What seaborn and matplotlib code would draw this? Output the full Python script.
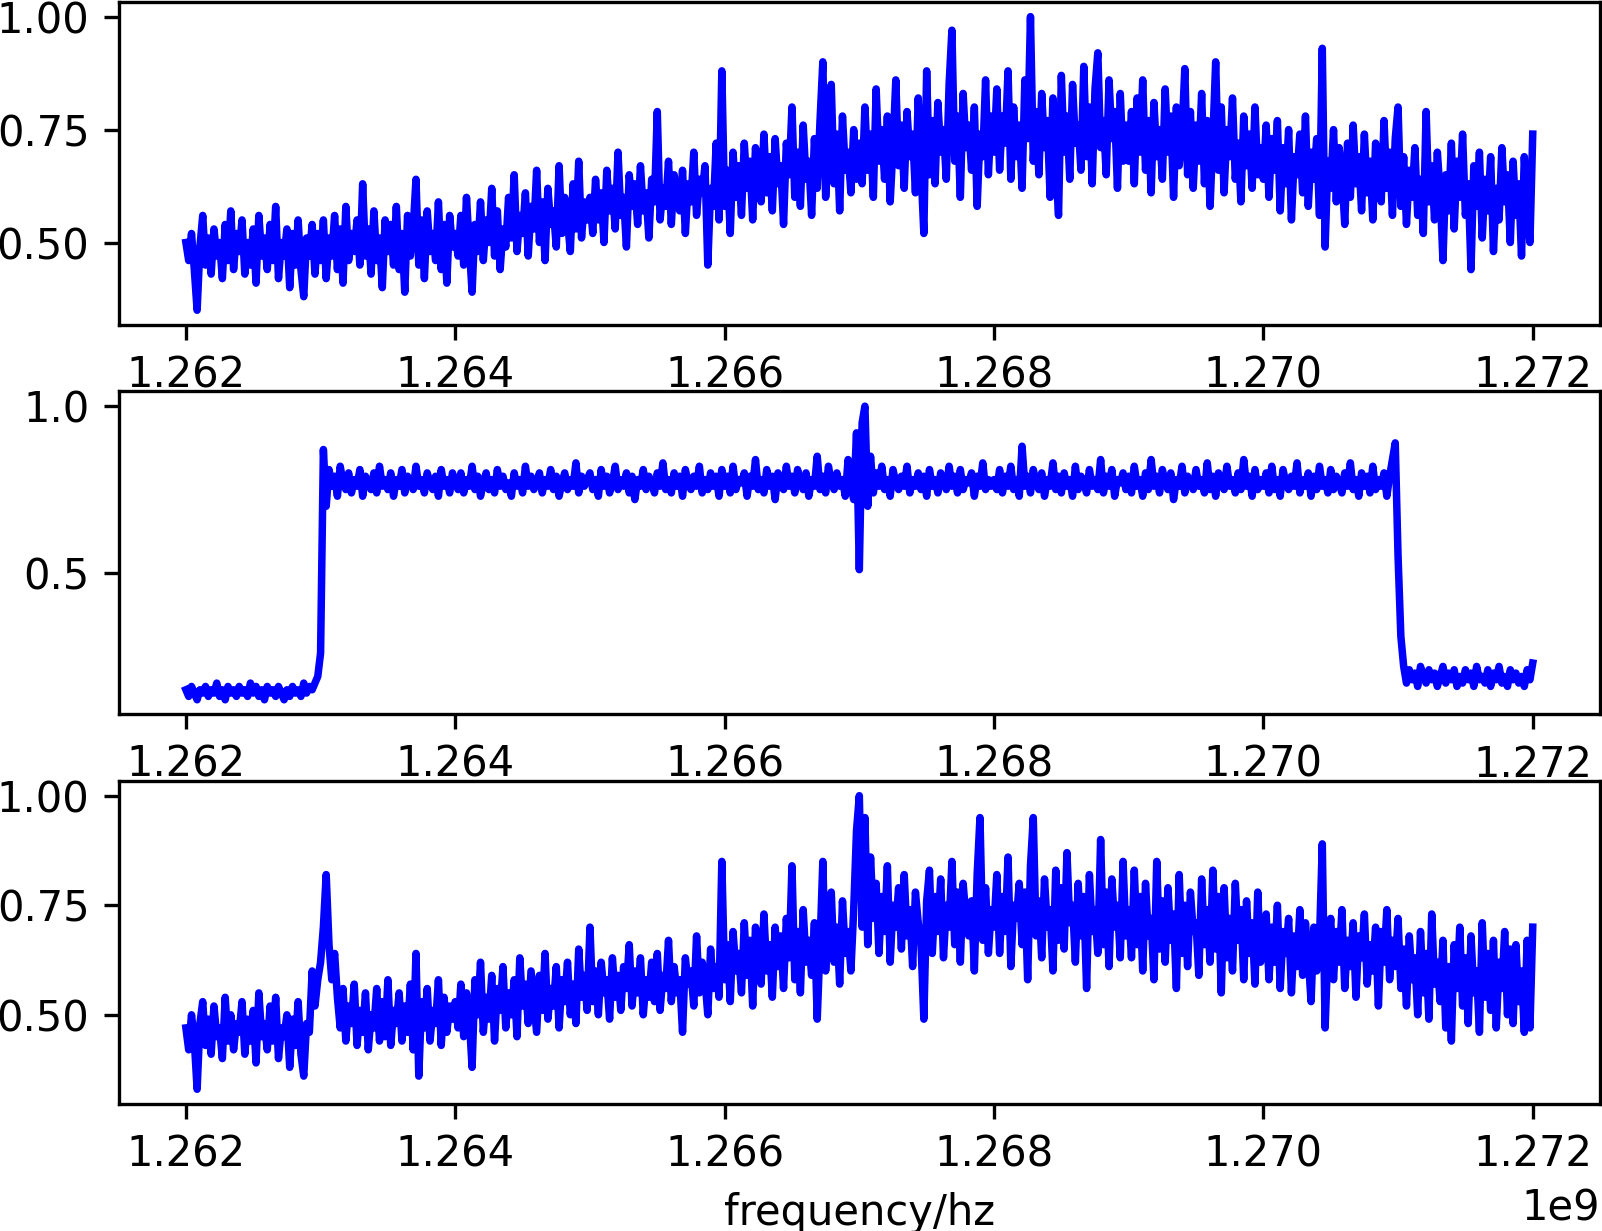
import numpy as np
import matplotlib
matplotlib.use("Agg")
import matplotlib.pyplot as plt
import seaborn as sns

# sweep limits (Hz)
f_start = 1.262e9
f_stop = 1.272e9

# normalised power, 48 samples per MHz (two lines = 1 MHz)
spectrum_a = [
    0.50, 0.46, 0.52, 0.44, 0.35, 0.49, 0.56, 0.45, 0.51, 0.43, 0.53, 0.47, 0.50, 0.42, 0.54, 0.46, 0.57, 0.44, 0.52, 0.48, 0.55, 0.43, 0.50, 0.45,
    0.53, 0.41, 0.56, 0.47, 0.51, 0.44, 0.54, 0.46, 0.58, 0.42, 0.50, 0.47, 0.53, 0.40, 0.52, 0.45, 0.55, 0.44, 0.38, 0.51, 0.47, 0.54, 0.43, 0.52,
    0.46, 0.55, 0.42, 0.51, 0.47, 0.56, 0.44, 0.53, 0.41, 0.58, 0.46, 0.52, 0.48, 0.55, 0.45, 0.63, 0.47, 0.53, 0.43, 0.57, 0.46, 0.51, 0.40, 0.55,
    0.48, 0.54, 0.45, 0.58, 0.44, 0.52, 0.39, 0.56, 0.47, 0.53, 0.64, 0.45, 0.55, 0.42, 0.57, 0.48, 0.52, 0.46, 0.59, 0.44, 0.54, 0.41, 0.56, 0.49,
    0.52, 0.47, 0.56, 0.45, 0.60, 0.49, 0.39, 0.54, 0.48, 0.59, 0.46, 0.55, 0.50, 0.62, 0.47, 0.57, 0.44, 0.53, 0.49, 0.60, 0.51, 0.65, 0.48, 0.56,
    0.52, 0.61, 0.47, 0.58, 0.53, 0.66, 0.50, 0.59, 0.46, 0.62, 0.54, 0.57, 0.49, 0.67, 0.52, 0.60, 0.55, 0.48, 0.63, 0.53, 0.68, 0.51, 0.59, 0.55,
    0.60, 0.52, 0.64, 0.55, 0.61, 0.50, 0.66, 0.57, 0.62, 0.53, 0.70, 0.56, 0.60, 0.49, 0.65, 0.58, 0.63, 0.54, 0.67, 0.57, 0.61, 0.51, 0.64, 0.59,
    0.79, 0.55, 0.62, 0.58, 0.68, 0.54, 0.65, 0.60, 0.57, 0.66, 0.52, 0.63, 0.59, 0.70, 0.56, 0.64, 0.61, 0.67, 0.45, 0.62, 0.58, 0.72, 0.55, 0.88,
    0.58, 0.66, 0.52, 0.70, 0.60, 0.67, 0.56, 0.72, 0.62, 0.68, 0.55, 0.71, 0.64, 0.59, 0.74, 0.61, 0.69, 0.57, 0.73, 0.63, 0.67, 0.54, 0.72, 0.65,
    0.80, 0.60, 0.70, 0.58, 0.76, 0.64, 0.68, 0.56, 0.73, 0.62, 0.77, 0.90, 0.60, 0.71, 0.85, 0.63, 0.74, 0.57, 0.78, 0.66, 0.70, 0.61, 0.75, 0.64,
    0.72, 0.63, 0.80, 0.66, 0.74, 0.60, 0.84, 0.68, 0.75, 0.64, 0.78, 0.59, 0.71, 0.86, 0.67, 0.76, 0.62, 0.79, 0.69, 0.74, 0.61, 0.82, 0.66, 0.52,
    0.88, 0.65, 0.77, 0.63, 0.81, 0.70, 0.75, 0.64, 0.85, 0.97, 0.68, 0.78, 0.60, 0.83, 0.71, 0.76, 0.66, 0.80, 0.58, 0.74, 0.69, 0.86, 0.65, 0.78,
    0.70, 0.84, 0.66, 0.78, 0.72, 0.88, 0.64, 0.80, 0.69, 0.76, 0.62, 0.86, 0.73, 1.00, 0.68, 0.79, 0.65, 0.83, 0.71, 0.77, 0.60, 0.82, 0.67, 0.56,
    0.87, 0.70, 0.78, 0.64, 0.85, 0.72, 0.76, 0.66, 0.89, 0.69, 0.80, 0.63, 0.84, 0.92, 0.71, 0.77, 0.65, 0.86, 0.73, 0.79, 0.62, 0.83, 0.68, 0.76,
    0.68, 0.79, 0.63, 0.82, 0.70, 0.86, 0.66, 0.77, 0.61, 0.81, 0.69, 0.75, 0.64, 0.84, 0.70, 0.78, 0.60, 0.80, 0.67, 0.74, 0.885, 0.65, 0.79, 0.62,
    0.76, 0.68, 0.83, 0.63, 0.77, 0.58, 0.73, 0.90, 0.66, 0.80, 0.61, 0.75, 0.69, 0.82, 0.64, 0.72, 0.59, 0.78, 0.67, 0.74, 0.62, 0.80, 0.65, 0.71,
    0.64, 0.76, 0.60, 0.73, 0.66, 0.77, 0.57, 0.71, 0.63, 0.75, 0.55, 0.69, 0.65, 0.74, 0.61, 0.78, 0.58, 0.70, 0.64, 0.73, 0.56, 0.93, 0.49, 0.68,
    0.62, 0.75, 0.59, 0.71, 0.65, 0.54, 0.72, 0.60, 0.76, 0.63, 0.69, 0.57, 0.74, 0.61, 0.68, 0.55, 0.72, 0.64, 0.59, 0.77, 0.62, 0.70, 0.56, 0.73,
    0.80, 0.58, 0.69, 0.54, 0.66, 0.60, 0.71, 0.56, 0.64, 0.52, 0.79, 0.59, 0.67, 0.55, 0.70, 0.61, 0.46, 0.65, 0.57, 0.72, 0.53, 0.68, 0.60, 0.74,
    0.56, 0.63, 0.44, 0.67, 0.58, 0.70, 0.51, 0.64, 0.57, 0.69, 0.48, 0.62, 0.55, 0.71, 0.59, 0.65, 0.50, 0.68, 0.56, 0.63, 0.47, 0.69, 0.58, 0.50,
    0.74,
]

spectrum_b = [
    0.15, 0.13, 0.16, 0.14, 0.12, 0.15, 0.14, 0.16, 0.13, 0.15, 0.14, 0.17, 0.13, 0.15, 0.12, 0.16, 0.14, 0.15, 0.13, 0.16, 0.14, 0.15, 0.13, 0.17,
    0.14, 0.16, 0.13, 0.15, 0.12, 0.16, 0.14, 0.15, 0.13, 0.16, 0.14, 0.12, 0.15, 0.13, 0.16, 0.14, 0.15, 0.13, 0.17, 0.14, 0.16, 0.15, 0.17, 0.19,
    0.26, 0.87, 0.70, 0.81, 0.76, 0.79, 0.73, 0.82, 0.77, 0.75, 0.80, 0.74, 0.78, 0.76, 0.81, 0.73, 0.79, 0.77, 0.75, 0.80, 0.74, 0.82, 0.76, 0.78,
    0.75, 0.80, 0.73, 0.78, 0.76, 0.81, 0.74, 0.79, 0.77, 0.75, 0.82, 0.76, 0.78, 0.74, 0.80, 0.77, 0.75, 0.79, 0.73, 0.81, 0.76, 0.78, 0.74, 0.80,
    0.77, 0.75, 0.80, 0.74, 0.78, 0.76, 0.82, 0.75, 0.79, 0.73, 0.77, 0.80, 0.75, 0.78, 0.74, 0.81, 0.76, 0.79, 0.75, 0.77, 0.73, 0.80, 0.76, 0.78,
    0.74, 0.82, 0.76, 0.79, 0.75, 0.77, 0.80, 0.74, 0.78, 0.76, 0.81, 0.75, 0.79, 0.73, 0.77, 0.80, 0.75, 0.78, 0.76, 0.83, 0.74, 0.79, 0.76, 0.78,
    0.80, 0.75, 0.78, 0.73, 0.81, 0.76, 0.79, 0.74, 0.77, 0.82, 0.75, 0.78, 0.76, 0.80, 0.74, 0.79, 0.72, 0.78, 0.76, 0.81, 0.75, 0.79, 0.77, 0.74,
    0.80, 0.76, 0.83, 0.75, 0.78, 0.74, 0.80, 0.76, 0.79, 0.73, 0.81, 0.77, 0.75, 0.79, 0.76, 0.82, 0.74, 0.78, 0.75, 0.80, 0.76, 0.79, 0.73, 0.81,
    0.76, 0.79, 0.74, 0.82, 0.75, 0.78, 0.77, 0.80, 0.73, 0.79, 0.76, 0.84, 0.75, 0.78, 0.74, 0.81, 0.76, 0.79, 0.72, 0.80, 0.77, 0.75, 0.82, 0.76,
    0.79, 0.74, 0.81, 0.77, 0.75, 0.80, 0.73, 0.78, 0.76, 0.85, 0.75, 0.79, 0.74, 0.82, 0.77, 0.75, 0.80, 0.76, 0.78, 0.73, 0.84, 0.76, 0.72, 0.92,
    0.51, 0.95, 1.00, 0.70, 0.85, 0.74, 0.80, 0.76, 0.82, 0.75, 0.78, 0.73, 0.81, 0.77, 0.75, 0.79, 0.76, 0.82, 0.74, 0.78, 0.76, 0.80, 0.75, 0.79,
    0.73, 0.81, 0.76, 0.78, 0.74, 0.80, 0.77, 0.75, 0.82, 0.76, 0.79, 0.74, 0.81, 0.75, 0.78, 0.77, 0.80, 0.73, 0.79, 0.76, 0.83, 0.75, 0.78, 0.76,
    0.78, 0.75, 0.81, 0.74, 0.79, 0.76, 0.82, 0.75, 0.78, 0.73, 0.88, 0.76, 0.79, 0.74, 0.81, 0.77, 0.75, 0.80, 0.73, 0.78, 0.76, 0.83, 0.75, 0.79,
    0.74, 0.80, 0.76, 0.78, 0.73, 0.82, 0.75, 0.79, 0.77, 0.74, 0.81, 0.76, 0.78, 0.75, 0.84, 0.74, 0.79, 0.76, 0.81, 0.73, 0.78, 0.77, 0.80, 0.75,
    0.79, 0.74, 0.82, 0.76, 0.78, 0.73, 0.80, 0.75, 0.84, 0.76, 0.79, 0.74, 0.81, 0.77, 0.75, 0.80, 0.72, 0.78, 0.76, 0.82, 0.74, 0.79, 0.77, 0.75,
    0.81, 0.76, 0.78, 0.74, 0.83, 0.75, 0.79, 0.73, 0.80, 0.77, 0.75, 0.82, 0.76, 0.78, 0.74, 0.80, 0.75, 0.84, 0.76, 0.79, 0.73, 0.81, 0.75, 0.78,
    0.76, 0.80, 0.74, 0.82, 0.75, 0.78, 0.73, 0.81, 0.77, 0.75, 0.79, 0.76, 0.83, 0.74, 0.78, 0.76, 0.80, 0.73, 0.79, 0.75, 0.82, 0.76, 0.78, 0.74,
    0.81, 0.75, 0.79, 0.77, 0.74, 0.80, 0.76, 0.83, 0.75, 0.78, 0.73, 0.80, 0.76, 0.79, 0.74, 0.82, 0.75, 0.78, 0.76, 0.80, 0.73, 0.79, 0.84, 0.89,
    0.55, 0.31, 0.22, 0.17, 0.21, 0.18, 0.20, 0.16, 0.22, 0.19, 0.17, 0.21, 0.18, 0.20, 0.16, 0.19, 0.22, 0.17, 0.20, 0.18, 0.21, 0.16, 0.19, 0.17,
    0.21, 0.18, 0.20, 0.16, 0.22, 0.18, 0.19, 0.17, 0.21, 0.16, 0.20, 0.18, 0.22, 0.17, 0.19, 0.16, 0.21, 0.18, 0.20, 0.17, 0.19, 0.16, 0.21, 0.18,
    0.23,
]

spectrum_c = [
    0.47, 0.42, 0.50, 0.44, 0.33, 0.48, 0.53, 0.43, 0.49, 0.41, 0.52, 0.45, 0.47, 0.40, 0.54, 0.44, 0.50, 0.42, 0.48, 0.46, 0.53, 0.41, 0.49, 0.44,
    0.51, 0.39, 0.55, 0.45, 0.48, 0.42, 0.52, 0.44, 0.54, 0.40, 0.47, 0.45, 0.50, 0.38, 0.49, 0.43, 0.53, 0.41, 0.36, 0.48, 0.46, 0.60, 0.52, 0.58,
    0.62, 0.70, 0.82, 0.66, 0.58, 0.64, 0.54, 0.47, 0.56, 0.44, 0.52, 0.48, 0.57, 0.43, 0.51, 0.46, 0.55, 0.42, 0.50, 0.47, 0.56, 0.44, 0.53, 0.45,
    0.58, 0.43, 0.51, 0.48, 0.55, 0.44, 0.52, 0.46, 0.57, 0.42, 0.64, 0.36, 0.53, 0.47, 0.56, 0.44, 0.51, 0.48, 0.58, 0.43, 0.54, 0.46, 0.52, 0.49,
    0.53, 0.47, 0.57, 0.45, 0.55, 0.49, 0.38, 0.58, 0.50, 0.62, 0.46, 0.54, 0.49, 0.59, 0.44, 0.56, 0.51, 0.61, 0.47, 0.55, 0.50, 0.58, 0.45, 0.63,
    0.52, 0.57, 0.48, 0.60, 0.53, 0.46, 0.59, 0.51, 0.64, 0.49, 0.56, 0.52, 0.61, 0.47, 0.58, 0.53, 0.62, 0.50, 0.57, 0.48, 0.65, 0.54, 0.59, 0.51,
    0.70, 0.53, 0.60, 0.50, 0.62, 0.55, 0.58, 0.49, 0.63, 0.54, 0.59, 0.51, 0.61, 0.56, 0.66, 0.52, 0.60, 0.55, 0.63, 0.50, 0.58, 0.54, 0.62, 0.53,
    0.64, 0.51, 0.59, 0.56, 0.67, 0.53, 0.61, 0.55, 0.58, 0.46, 0.63, 0.57, 0.60, 0.52, 0.68, 0.55, 0.62, 0.58, 0.50, 0.65, 0.56, 0.61, 0.54, 0.85,
    0.58, 0.66, 0.53, 0.69, 0.60, 0.64, 0.55, 0.71, 0.59, 0.67, 0.52, 0.70, 0.62, 0.57, 0.73, 0.60, 0.66, 0.54, 0.70, 0.61, 0.68, 0.56, 0.72, 0.63,
    0.84, 0.58, 0.69, 0.55, 0.74, 0.62, 0.67, 0.59, 0.71, 0.49, 0.66, 0.85, 0.60, 0.73, 0.78, 0.62, 0.70, 0.57, 0.76, 0.64, 0.69, 0.60, 0.74, 0.92,
    1.00, 0.70, 0.95, 0.66, 0.86, 0.72, 0.80, 0.64, 0.77, 0.69, 0.84, 0.62, 0.75, 0.70, 0.79, 0.65, 0.82, 0.68, 0.74, 0.61, 0.78, 0.71, 0.66, 0.49,
    0.76, 0.83, 0.64, 0.77, 0.69, 0.81, 0.63, 0.75, 0.70, 0.85, 0.66, 0.78, 0.62, 0.80, 0.72, 0.68, 0.76, 0.60, 0.82, 0.95, 0.67, 0.79, 0.64, 0.74,
    0.70, 0.82, 0.64, 0.77, 0.69, 0.86, 0.61, 0.75, 0.72, 0.80, 0.66, 0.78, 0.58, 0.84, 0.95, 0.68, 0.76, 0.63, 0.81, 0.70, 0.74, 0.60, 0.83, 0.67,
    0.79, 0.65, 0.87, 0.71, 0.75, 0.62, 0.80, 0.68, 0.77, 0.56, 0.82, 0.69, 0.74, 0.64, 0.90, 0.66, 0.78, 0.61, 0.81, 0.70, 0.75, 0.63, 0.85, 0.68,
    0.74, 0.63, 0.83, 0.66, 0.77, 0.60, 0.80, 0.68, 0.72, 0.58, 0.85, 0.65, 0.76, 0.62, 0.79, 0.67, 0.73, 0.56, 0.82, 0.64, 0.75, 0.61, 0.78, 0.69,
    0.71, 0.59, 0.81, 0.66, 0.74, 0.62, 0.83, 0.65, 0.77, 0.55, 0.79, 0.63, 0.72, 0.60, 0.80, 0.67, 0.74, 0.58, 0.76, 0.64, 0.71, 0.57, 0.78, 0.62,
    0.66, 0.73, 0.58, 0.70, 0.62, 0.75, 0.56, 0.69, 0.64, 0.72, 0.55, 0.68, 0.61, 0.74, 0.59, 0.71, 0.63, 0.53, 0.70, 0.60, 0.67, 0.89, 0.47, 0.65,
    0.72, 0.58, 0.69, 0.62, 0.74, 0.56, 0.67, 0.61, 0.71, 0.54, 0.68, 0.63, 0.73, 0.57, 0.66, 0.60, 0.70, 0.52, 0.69, 0.62, 0.74, 0.58, 0.67, 0.61,
    0.72, 0.56, 0.65, 0.52, 0.68, 0.58, 0.63, 0.50, 0.69, 0.55, 0.64, 0.49, 0.73, 0.57, 0.62, 0.53, 0.67, 0.47, 0.61, 0.44, 0.66, 0.56, 0.70, 0.52,
    0.63, 0.48, 0.68, 0.55, 0.60, 0.46, 0.71, 0.54, 0.64, 0.51, 0.67, 0.47, 0.62, 0.56, 0.69, 0.50, 0.65, 0.48, 0.66, 0.53, 0.60, 0.46, 0.67, 0.47,
    0.70,
]

x_ticks = [1.262e9, 1.264e9, 1.266e9, 1.268e9, 1.270e9, 1.272e9]
y_ticks = [[0.5, 0.75, 1.0], [0.5, 1.0], [0.5, 0.75, 1.0]]

fig, axes = plt.subplots(3, 1, figsize=(1602 / 300, 1231 / 300), dpi=300)
fig.subplots_adjust(left=0.074, right=0.9988, top=0.9984, bottom=0.1032, hspace=0.206)

for ax, vals, yt in zip(axes, [spectrum_a, spectrum_b, spectrum_c], y_ticks):
    freq = np.linspace(f_start, f_stop, len(vals))
    sns.lineplot(x=freq, y=vals, ax=ax, color="b", linewidth=1.8,
                 estimator=None, sort=False)
    ax.set_xticks(x_ticks)
    ax.set_yticks(yt)
    ax.set_xlabel("")
    ax.set_ylabel("")

axes[-1].set_xlabel("frequency/hz")

fig.savefig("out.png", dpi=300)
